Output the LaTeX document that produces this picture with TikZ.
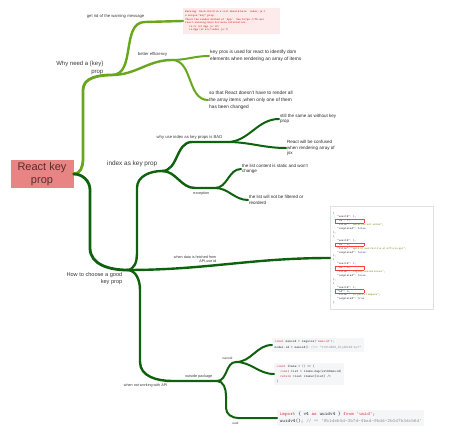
\documentclass[tikz,border=0pt]{standalone}
\usepackage{fontspec}
\setmainfont{Liberation Sans}
\newfontfamily\arrowfont{DejaVu Sans}
\usepackage{xcolor}
\usetikzlibrary{positioning}

\definecolor{rootfill}{RGB}{233,132,132}
\definecolor{roottext}{RGB}{88,44,44}
\definecolor{lightbranch}{RGB}{104,166,30}
\definecolor{darkbranch}{RGB}{14,98,14}
\definecolor{labeltext}{RGB}{55,55,55}
\definecolor{warnfill}{RGB}{253,234,234}
\definecolor{warntext}{RGB}{214,42,42}
\definecolor{codefill}{RGB}{245,246,248}
\definecolor{codekey}{RGB}{215,58,73}
\definecolor{codegrey}{RGB}{150,150,150}
\definecolor{jsonstr}{RGB}{125,150,40}
\definecolor{jsonbool}{RGB}{40,90,170}

\newcommand{\idbox}[1]{{\setlength{\fboxsep}{0.5pt}\setlength{\fboxrule}{0.35pt}\fcolorbox{red!75}{white}{\makebox[28pt][l]{#1}}}}
\newcommand{\todoitem}[3]{\{\\
\hspace*{4pt}"userId": 1,\\
\hspace*{1.5pt}\idbox{\hspace*{2pt}"id": #1,}\\
\hspace*{4pt}"title": \textcolor{jsonstr}{"#2"},\\
\hspace*{4pt}"completed": \textcolor{jsonbool}{#3}\\
\}}

\begin{document}
\begin{tikzpicture}[x=1pt,y=-1pt,line cap=round,
rootbox/.style={fill=rootfill,text=roottext,minimum width=63pt,minimum height=28pt,
  align=center,inner sep=1pt,font=\fontsize{11}{12.5}\selectfont},
trunk/.style={line width=2.8pt},
branch/.style={line width=2.4pt},
twig/.style={line width=2pt},
mainlabel/.style={text=labeltext,inner sep=0.5pt,font=\fontsize{6}{8}\selectfont},
tinylabel/.style={text=labeltext,inner sep=0.5pt,font=\fontsize{4.2}{5}\selectfont},
microlabel/.style={text=labeltext,inner sep=0.5pt,font=\fontsize{3.7}{4.5}\selectfont},
leaflight/.style={anchor=west,align=left,text=black!85,inner sep=1pt,font=\fontsize{4.8}{7.2}\selectfont},
leafdark/.style={anchor=west,align=left,text=black!85,inner sep=1pt,font=\fontsize{4.5}{5.6}\selectfont},
warnbox/.style={anchor=west,fill=warnfill,text=warntext,align=left,text width=93pt,
  minimum height=26pt,inner sep=2pt,font=\ttfamily\fontsize{3}{3.3}\selectfont},
jsonbox/.style={anchor=west,draw=black!12,fill=white,text=black!75,align=left,text width=97pt,
  minimum height=103pt,inner sep=3pt,font=\ttfamily\fontsize{3}{3.9}\selectfont},
codebox/.style={anchor=west,fill=codefill,text=black!80,align=left,inner sep=2.5pt}
]
\useasboundingbox (0,0) rectangle (474,438);

\node[rootbox] (root) at (42,174) {React key\\prop};

% joints
\coordinate (why) at (112,75);
\coordinate (gr) at (145,22);
\coordinate (eff) at (172,60);
\coordinate (howto) at (127,270);
\coordinate (idx) at (162,171);
\coordinate (badS) at (192,142);
\coordinate (bad) at (227,142);
\coordinate (excS) at (195,188);
\coordinate (exc) at (215,188);
\coordinate (noapi) at (172,381);
\coordinate (pkg) at (217,381);
\coordinate (nano) at (236,362);
\coordinate (uuid) at (238,418);
\coordinate (whyup) at (83,160);
\coordinate (whytop) at (83,90);
\coordinate (howdown) at (90,190);
\coordinate (howbot) at (90,248);
\coordinate (idxlow) at (137,254);
\coordinate (idxtop) at (137,188);
\coordinate (noapitop) at (140,290);
\coordinate (noapilow) at (140,362);
\coordinate (uuidtop) at (226,396);
\coordinate (uuidlow) at (226,408);

% leaves
\node[warnbox] (warn) at (183,21) {\textbf{Warning}: Each child in a list should have\ \ \ index.js:1\\
a unique "key" prop.\\[1pt]
Check the render method of `App`. See https://fb.me/\\
react-warning-keys for more information.\\
\ \ \ \ in li (at App.js:12)\\
\ \ \ \ in App (at src/index.js:7)};
\node[leaflight] (keypros) at (209,56) {key pros is used for react to identify dom\\elements when rendering an array of items};
\node[leaflight] (rerender) at (208,100) {so that React doesn't have to render all\\the array items ,when only one of them\\has been changed};
\node[leafdark] (same) at (279,119) {still the same as without key\\prop};
\node[leafdark] (confused) at (286,148) {React will be confused\\when rendering array of\\jsx};
\node[leafdark] (static) at (241,169) {the list content is static and won't\\change};
\node[leafdark] (filtered) at (248,200) {the list will not be filtered or\\reorderd};
\node[jsonbox] (json) at (330,258) {\todoitem{1}{delectus aut autem}{false},\\
\todoitem{2}{quis ut nam facilis et officia qui}{false},\\
\todoitem{3}{fugiat veniam minus}{false},\\
\todoitem{4}{et porro tempora}{true}};
\node[codebox,font=\ttfamily\fontsize{3.4}{6}\selectfont] (nanoreq) at (272,345) {\textcolor{codekey}{const} nanoid = require(\textcolor{codekey}{'nanoid'});\\
model.id = nanoid() \textcolor{codegrey}{//=> "V1StGXR8\_Z5jdHi6B-myT"}};
\node[codebox,font=\ttfamily\fontsize{3.4}{4.8}\selectfont] (nanomap) at (274,374) {\textcolor{codekey}{const} Items = () => \{\\
\ \ \textcolor{codekey}{const} list = items.map(withNanoid)\\
\ \ \textcolor{codekey}{return} <List items=\{list\} />\\
\}};
\node[codebox,font=\ttfamily\fontsize{5}{7}\selectfont] (uuidcode) at (277,418) {\textcolor{codekey}{import} \{ v4 \textcolor{codekey}{as} uuidv4 \} \textcolor{codekey}{from} \textcolor{codekey}{'uuid'};\\
uuidv4(); \textcolor{codegrey}{// {\arrowfont ⇨} '9b1deb4d-3b7d-4bad-9bdd-2b0d7b3dcb6d'}};

% labels
\node[mainlabel,align=right,above left=0pt and 8pt of why] (whylbl) {Why need a \{key\}\\prop};
\node[tinylabel,above left=3pt and 0pt of gr] (grlbl) {get rid of the warning message};
\node[tinylabel,above left=3pt and 4pt of eff] (efflbl) {better efficiency};
\node[mainlabel,align=right,font=\fontsize{5.6}{7}\selectfont,below left=2pt and 4pt of howto] (howlbl) {How to choose a good\\key prop};
\node[mainlabel,font=\fontsize{6.4}{8}\selectfont,above left=3pt and 4pt of idx] (idxlbl) {index as key prop};
\node[tinylabel,above left=2pt and 4pt of bad] (badlbl) {why use index as key props is BAD};
\node[microlabel,below left=3pt and 5pt of exc] (exclbl) {exception};
\node[microlabel,align=right,anchor=south east] (apilbl) at (217,264) {when data is fetched from\\API,use id};
\node[microlabel,below left=2.5pt and 4pt of noapi] (noapilbl) {when not working with API};
\node[microlabel,above left=2.5pt and 4pt of pkg] (pkglbl) {outside package};
\node[microlabel,font=\fontsize{3.2}{4}\selectfont,above left=2pt and 3pt of nano] (nanolbl) {nanoid};
\node[microlabel,font=\fontsize{3.2}{4}\selectfont,below left=3pt and -1pt of uuid] (uuidlbl) {uuid};

% light branches
\draw[lightbranch,trunk] (root.east) to[out=0,in=-90] (whyup) -- (whytop) to[out=90,in=180] (why);
\draw[lightbranch,branch] (why) to[out=0,in=180] (gr) -- (warn.west);
\draw[lightbranch,branch] (why) to[out=0,in=180] (eff);
\draw[lightbranch,twig] (eff) to[out=0,in=180] (keypros.west);
\draw[lightbranch,twig] (eff) to[out=0,in=180] (rerender.west);

% dark branches
\draw[darkbranch,trunk] (root.east) to[out=0,in=90] (howdown) -- (howbot) to[out=-90,in=180] (howto);
\draw[darkbranch,branch] (howto) to[out=0,in=-90] (idxlow) -- (idxtop) to[out=90,in=180] (idx);
\draw[darkbranch,branch] (idx) to[out=0,in=180] (badS) -- (bad);
\draw[darkbranch,twig] (bad) to[out=0,in=180] (same.west);
\draw[darkbranch,twig] (bad) to[out=0,in=180] (confused.west);
\draw[darkbranch,branch] (idx) to[out=0,in=180] (excS) -- (exc);
\draw[darkbranch,twig] (exc) to[out=0,in=180] (static.west);
\draw[darkbranch,twig] (exc) to[out=0,in=180] (filtered.west);
\draw[darkbranch,branch] (howto) to[out=0,in=180] (json.west);
\draw[darkbranch,branch] (howto) to[out=0,in=90] (noapitop) -- (noapilow) to[out=-90,in=180] (noapi) -- (pkg);
\draw[darkbranch,twig] (pkg) to[out=0,in=180] (nano);
\draw[darkbranch,twig] (nano) to[out=0,in=180] (nanoreq.west);
\draw[darkbranch,twig] (nano) to[out=0,in=180] (nanomap.west);
\draw[darkbranch,twig] (pkg) to[out=0,in=90] (uuidtop) -- (uuidlow) to[out=-90,in=180] (uuid) -- (uuidcode.west);
\end{tikzpicture}
\end{document}
